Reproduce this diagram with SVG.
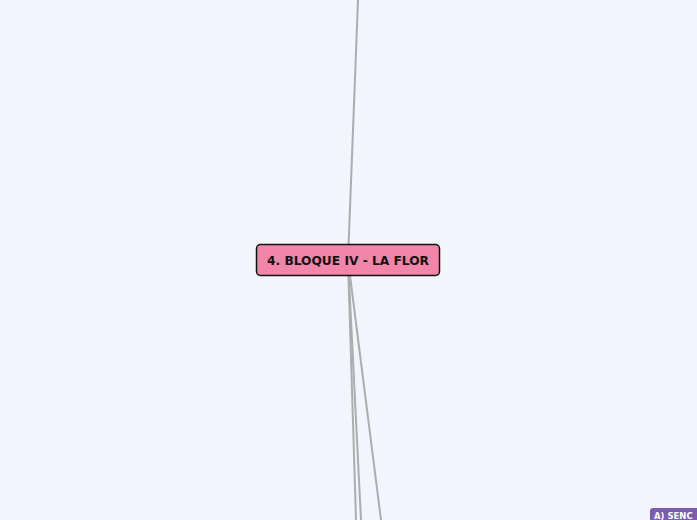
<svg xmlns="http://www.w3.org/2000/svg" width="697" height="520" viewBox="0 0 697 520">
<style>
.conn{fill:none;stroke:#adadad;stroke-width:2}
.lbl{font-family:"DejaVu Sans",Verdana,sans-serif;font-weight:bold}
</style>
<rect width="697" height="520" fill="#f2f5fe"/>
<g id="connectors">
<path class="conn" d="M348,260 L358,0"/>
<path class="conn" d="M348,260 L356,520"/>
<path class="conn" d="M348,260 L361,520"/>
<path class="conn" d="M348,260 L381,520"/>
</g>
<g id="root">
<rect x="256.5" y="244.5" width="183" height="31" rx="4" fill="#f285aa" stroke="#111" stroke-width="1.5"/>
<text class="lbl" x="348" y="265" font-size="12" text-anchor="middle" fill="#111" textLength="162" lengthAdjust="spacingAndGlyphs">4. BLOQUE IV - LA FLOR</text>
</g>
<g id="sencilla">
<rect x="650" y="508" width="60" height="20" rx="3" fill="#7a5cb0"/>
<text class="lbl" x="654" y="519" font-size="8.5" fill="#fff">A) SENC</text>
</g>
</svg>
